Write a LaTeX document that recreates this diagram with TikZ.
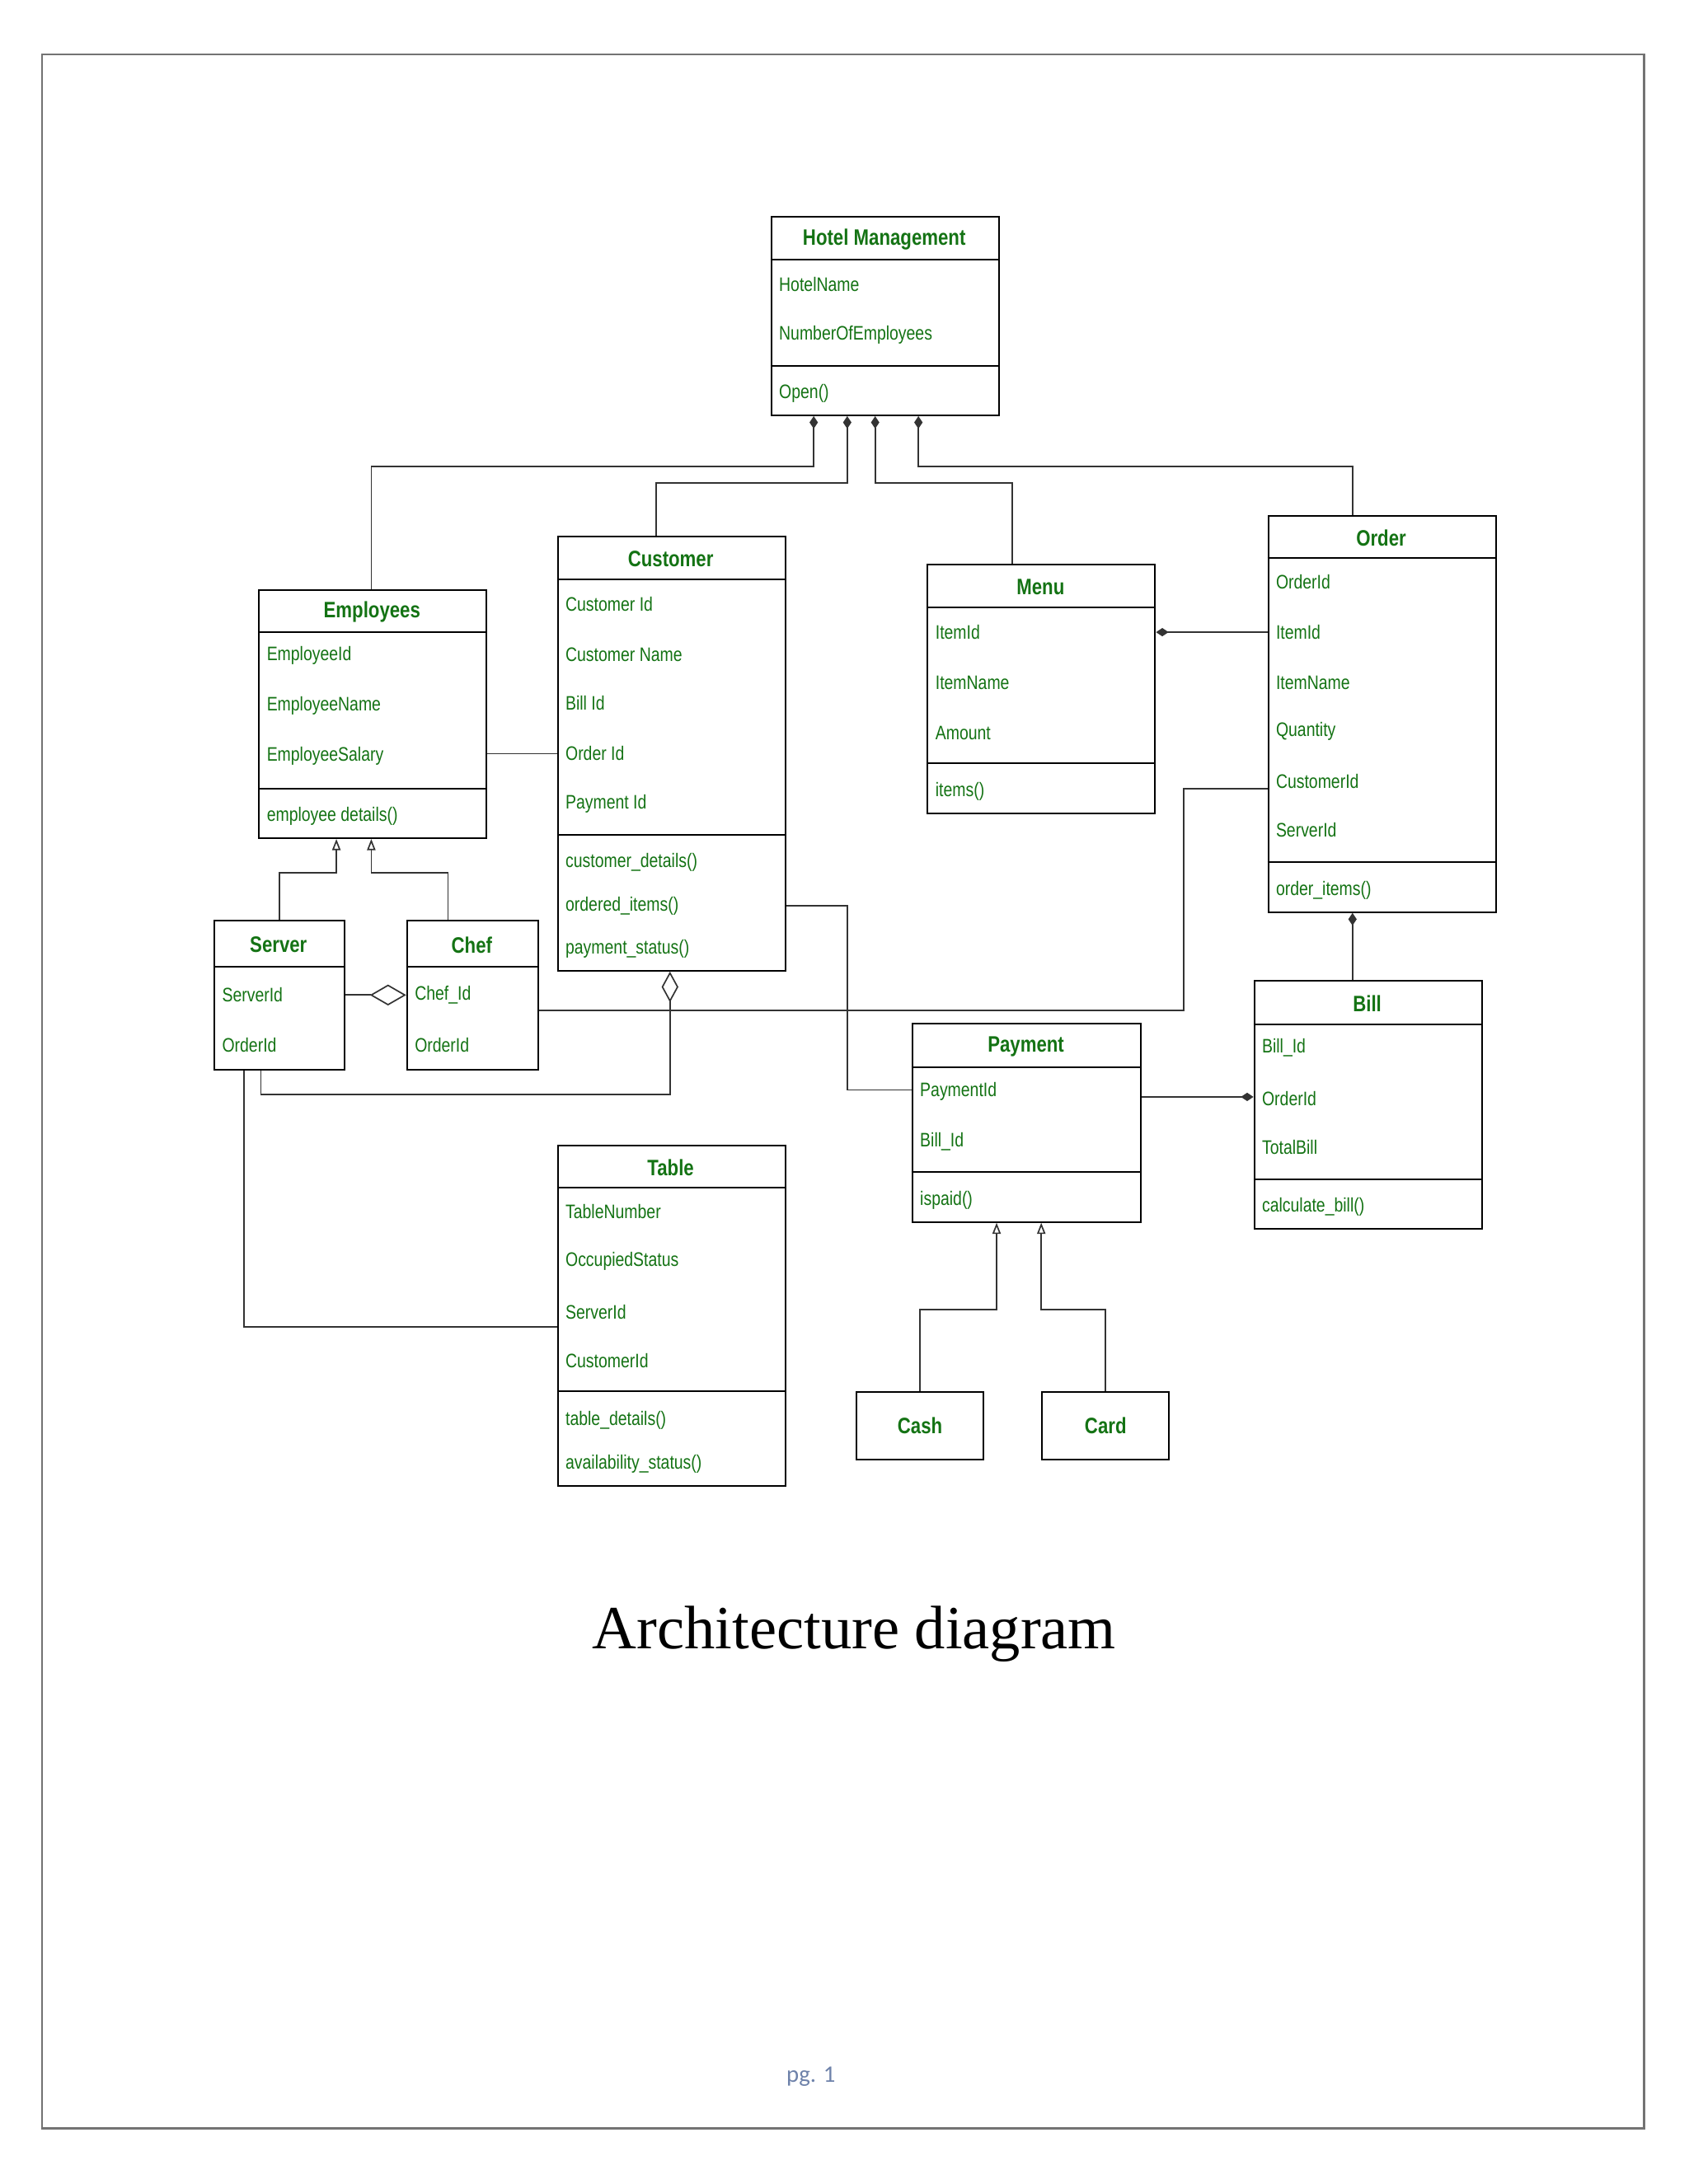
\documentclass[tikz,border=0pt]{standalone}
\usepackage{fontspec}
\setmainfont{Liberation Serif}
\newfontfamily\umlf[FakeStretch=0.82]{Liberation Sans}
\newfontfamily\pgf{Carlito}
\usetikzlibrary{arrows.meta,calc}
\definecolor{umlgreen}{RGB}{20,115,20}
\definecolor{pggray}{RGB}{110,130,170}
\tikzset{
 box/.style={draw,line width=1.2pt,inner sep=0pt,anchor=north west},
 attr/.style={anchor=west,inner sep=0pt,text=umlgreen,font=\umlf\fontsize{14}{15}\selectfont},
 ttl/.style={inner sep=0pt,text=umlgreen,font=\umlf\bfseries\fontsize{16}{17}\selectfont},
 conn/.style={line width=1pt,draw=black!80},
 comp/.style={conn,-{Diamond[length=9pt,width=6pt]}},
 gen/.style={conn,-{Triangle[open,length=8pt,width=6pt]}},
}
\newcommand\umlclass[7]{%
 \node[box,minimum width={(#5-#3)*1pt},minimum height={(#6-#4)*1pt}] (#1) at (#3,#4) {};
 \node[ttl] at ({(#3+#5)/2},{(#4+#7)/2+1}) {#2};
 \draw[line width=1.2pt] (#3,#7) -- (#5,#7);}
\newcommand\divl[3]{\draw[line width=1.2pt] (#1,#3) -- (#2,#3);}
\begin{document}
\begin{tikzpicture}[x=1pt,y=-1pt]
\useasboundingbox (0,0) rectangle (1210,1565);
\fill[white] (0,0) rectangle (1210,1565);
\draw[line width=1.5pt,draw=black!55] (30,39) rectangle (1178,1525);

% Hotel Management
\umlclass{hm}{Hotel Management}{552}{155}{715}{297}{186}
\divl{552}{715}{262}
\node[attr] at (558,204) {HotelName};
\node[attr] at (558,240) {NumberOfEmployees};
\node[attr] at (558,282) {Open()};

% Employees
\umlclass{emp}{Employees}{185}{422}{348}{600}{453}
\divl{185}{348}{565}
\node[attr] at (191,470) {EmployeeId};
\node[attr] at (191,506) {EmployeeName};
\node[attr] at (191,542) {EmployeeSalary};
\node[attr] at (191,585) {employee details()};

% Customer
\umlclass{cust}{Customer}{399}{384}{562}{695}{415}
\divl{399}{562}{598}
\node[attr] at (405,433) {Customer Id};
\node[attr] at (405,469) {Customer Name};
\node[attr] at (405,504) {Bill Id};
\node[attr] at (405,540) {Order Id};
\node[attr] at (405,576) {Payment Id};
\node[attr] at (405,618) {customer\_details()};
\node[attr] at (405,649) {ordered\_items()};
\node[attr] at (405,680) {payment\_status()};

% Menu
\umlclass{menu}{Menu}{664}{404}{827}{582}{435}
\divl{664}{827}{547}
\node[attr] at (670,453) {ItemId};
\node[attr] at (670,489) {ItemName};
\node[attr] at (670,525) {Amount};
\node[attr] at (670,567) {items()};

% Order
\umlclass{ord}{Order}{908}{369}{1071}{653}{400}
\divl{908}{1071}{618}
\node[attr] at (914,417) {OrderId};
\node[attr] at (914,453) {ItemId};
\node[attr] at (914,489) {ItemName};
\node[attr] at (914,524) {Quantity};
\node[attr] at (914,560) {CustomerId};
\node[attr] at (914,595) {ServerId};
\node[attr] at (914,638) {order\_items()};

% Server
\umlclass{serv}{Server}{153}{659}{246}{766}{693}
\node[attr] at (159,713) {ServerId};
\node[attr] at (159,749) {OrderId};

% Chef
\umlclass{chef}{Chef}{291}{659}{385}{766}{693}
\node[attr] at (297,713) {Chef\_Id};
\node[attr] at (297,749) {OrderId};

% Payment
\umlclass{pay}{Payment}{653}{733}{817}{875}{765}
\divl{653}{817}{840}
\node[attr] at (659,782) {PaymentId};
\node[attr] at (659,818) {Bill\_Id};
\node[attr] at (659,860) {ispaid()};

% Bill
\umlclass{bill}{Bill}{898}{702}{1061}{880}{734}
\divl{898}{1061}{845}
\node[attr] at (904,751) {Bill\_Id};
\node[attr] at (904,787) {OrderId};
\node[attr] at (904,822) {TotalBill};
\node[attr] at (904,865) {calculate\_bill()};

% Table
\umlclass{tab}{Table}{399}{820}{562}{1064}{851}
\divl{399}{562}{997}
\node[attr] at (405,868) {TableNumber};
\node[attr] at (405,904) {OccupiedStatus};
\node[attr] at (405,940) {ServerId};
\node[attr] at (405,975) {CustomerId};
\node[attr] at (405,1018) {table\_details()};
\node[attr] at (405,1049) {availability\_status()};

% Cash, Card
\node[box,minimum width=91pt,minimum height=48pt] (cash) at (613,997) {};
\node[ttl] at (cash.center) {Cash};
\node[box,minimum width=91pt,minimum height=48pt] (card) at (746,997) {};
\node[ttl] at (card.center) {Card};

% compositions to Hotel Management
\draw[comp] ($(emp.north west)+(81,0)$) |- ($(hm.south west)+(31,36)$) -- ($(hm.south west)+(31,0)$);
\draw[comp] ($(cust.north west)+(71,0)$) |- ($(hm.south west)+(55,48)$) -- ($(hm.south west)+(55,0)$);
\draw[comp] ($(menu.north west)+(61,0)$) |- ($(hm.south west)+(75,48)$) -- ($(hm.south west)+(75,0)$);
\draw[comp] ($(ord.north west)+(61,0)$) |- ($(hm.south west)+(106,36)$) -- ($(hm.south west)+(106,0)$);

% Employees - Customer
\draw[conn] ($(emp.north east)+(0,118)$) -- ($(cust.north west)+(0,156)$);
% Order - Menu
\draw[comp] ($(ord.north west)+(0,84)$) -- ($(menu.north east)+(0,49)$);
% generalisations to Employees
\draw[gen] ($(serv.north west)+(47,0)$) |- ($(emp.south west)+(56,24)$) -- ($(emp.south west)+(56,0)$);
\draw[gen] ($(chef.north west)+(30,0)$) |- ($(emp.south west)+(81,24)$) -- ($(emp.south west)+(81,0)$);
% Server - Chef aggregation
\draw[conn,-{Diamond[open,length=26pt,width=15pt]}] ($(serv.north east)+(0,54)$) -- ($(chef.north west)+(0,54)$);
% Chef - Order
\draw[conn] ($(chef.north east)+(0,65)$) -| ($(ord.south west)+(-60,-89)$) -- ($(ord.south west)+(0,-89)$);
% Server - Customer aggregation
\draw[conn,-{Diamond[open,length=22pt,width=12pt]}] ($(serv.south west)+(34,0)$) |- ($(cust.south west)+(81,88)$) -- ($(cust.south west)+(81,0)$);
% Customer - Payment
\draw[conn] ($(cust.north east)+(0,265)$) -| ($(pay.north west)+(-46,48)$) -- ($(pay.north west)+(0,48)$);
% Server - Table
\draw[conn] ($(serv.south west)+(22,0)$) |- ($(tab.north west)+(0,131)$);
% Payment - Bill
\draw[comp] ($(pay.north east)+(0,53)$) -- ($(bill.north west)+(0,84)$);
% Bill - Order
\draw[comp] ($(bill.north west)+(71,0)$) -- ($(ord.south west)+(61,0)$);
% Cash / Card generalisation
\draw[gen] (cash.north) |- ($(pay.south west)+(61,62)$) -- ($(pay.south west)+(61,0)$);
\draw[gen] (card.north) |- ($(pay.south west)+(93,62)$) -- ($(pay.south west)+(93,0)$);

% caption
\node[font=\fontsize{44}{50}\selectfont] (cap) at (612,1171) {Architecture diagram};
\node[font=\pgf\fontsize{17}{20}\selectfont,text=pggray] (pg) at (581,1488) {pg. 1};
\end{tikzpicture}
\end{document}
